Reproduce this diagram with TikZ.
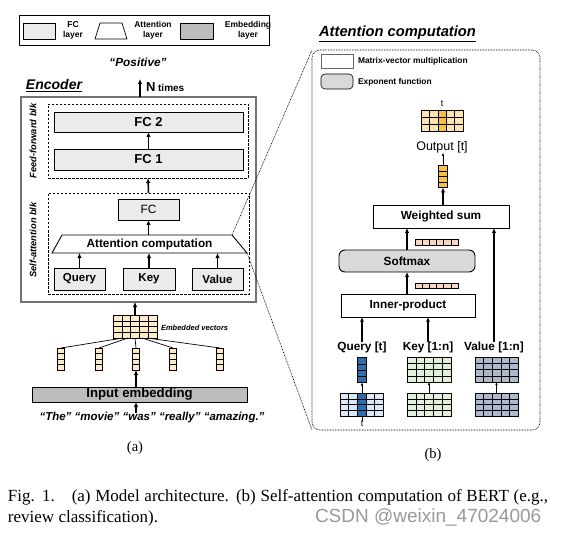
\documentclass[tikz,border=0pt]{standalone}
\usepackage{fontspec}
\setmainfont{Liberation Serif}
\setsansfont{Liberation Sans}
\usetikzlibrary{calc,arrows.meta}
\definecolor{fcgray}{HTML}{EBEBEB}
\definecolor{embgray}{HTML}{BDBDBD}
\definecolor{smgray}{HTML}{D9D9D9}
\definecolor{paley}{HTML}{FBEBC8}
\definecolor{peach}{HTML}{FCE4B2}
\definecolor{gold}{HTML}{F5C242}
\definecolor{pinkv}{HTML}{F6D5C5}
\definecolor{qdark}{HTML}{2E6DAE}
\definecolor{qlight}{HTML}{DCE8F5}
\definecolor{kgreen}{HTML}{E2EFD9}
\definecolor{vslate}{HTML}{ADB9CB}
\newcommand{\fsz}[1]{\fontsize{#1}{#1}\selectfont}
\newcommand{\cellgrid}[3]{%
  \pgfmathtruncatemacro{\cgc}{#2-1}%
  \pgfmathtruncatemacro{\cgr}{#3-1}%
  \ifnum\cgc>0
    \foreach \ci in {1,...,\cgc}{\draw[cellline] ($(#1.south west)!\ci/#2!(#1.south east)$) -- ($(#1.north west)!\ci/#2!(#1.north east)$);}
  \fi
  \ifnum\cgr>0
    \foreach \ri in {1,...,\cgr}{\draw[cellline] ($(#1.south west)!\ri/#3!(#1.north west)$) -- ($(#1.south east)!\ri/#3!(#1.north east)$);}
  \fi
}
\newcommand{\hlcol}[4]{\fill[#4] ($(#1.south west)!#2!(#1.south east)$) rectangle ($(#1.north west)!#3!(#1.north east)$);}
\newcommand{\reborder}[1]{\draw[line width=0.6pt] (#1.south west) rectangle (#1.north east);}
\begin{document}
\begin{tikzpicture}[x=1pt,y=-1pt,
  every node/.style={inner sep=0pt, outer sep=0pt},
  sz/.style 2 args={minimum width=#1pt,minimum height=#2pt},
  nbox/.style={draw, line width=0.9pt, font=\sffamily\bfseries\fsz{11.8}},
  dbox/.style={draw, line width=0.8pt, dash pattern=on 2.5pt off 1.5pt},
  arr/.style={-{Latex[length=5pt,width=4.5pt]}, line width=1.5pt},
  marr/.style={-{Latex[length=4.5pt,width=4pt]}, line width=1.1pt},
  tarr/.style={-{Latex[length=3pt,width=2.6pt]}, line width=0.6pt},
  mcell/.style={draw, line width=0.6pt},
  cellline/.style={line width=0.5pt},
  lbl/.style={font=\sffamily\bfseries\fsz{#1}},
  lgt/.style={font=\sffamily\bfseries\fontsize{8.5}{10}\selectfont, align=center},
  dotl/.style={line width=0.6pt, dash pattern=on 0.8pt off 0.8pt}
]
\useasboundingbox (0,0) rectangle (561,534);
\fill[white] (0,0) rectangle (561,534);

% ---------- legend (a)
\node[draw, line width=0.9pt, sz={250}{30}] (legend) at (144,30) {};
\node[draw, fill=fcgray, line width=0.7pt, sz={32}{16}] (lgfc) at (39,31) {};
\node[lgt] (lgfct) at (73,30) {FC\\layer};
\draw[line width=0.7pt] (95,39) -- (100,23) -- (122,23) -- (127,39) -- cycle;
\node[lgt] (lgatt) at (153,30) {Attention\\layer};
\node[draw, fill=embgray, line width=0.7pt, sz={33}{16}] (lgemb) at (196.5,31) {};
\node[lgt] (lgembt) at (248,30) {Embedding\\layer};

\node[font=\sffamily\bfseries\itshape\fsz{11.8}] (pos) at (138,62) {“Positive”};
\node[font=\sffamily\bfseries\itshape\fsz{14}] (enct) at (54,86) {\underline{Encoder}};

% ---------- encoder
\node[draw=black!55, line width=1.3pt, sz={235}{205}] (enc) at (138.5,199.5) {};
\coordinate (ntop) at (140,79);
\draw[arr] (enc.north -| ntop) -- (ntop);
\node[anchor=west, font=\sffamily\bfseries] (ntimes) at (146,87) {{\fsz{13}N}\ {\fsz{10}times}};

\node[dbox, sz={200}{74}] (ffb) at (148,141) {};
\node[nbox, fill=fcgray, sz={189}{20}, font=\sffamily\bfseries\fsz{13}] (fc2) at (148.5,122) {FC 2};
\node[nbox, fill=fcgray, sz={189}{21}, font=\sffamily\bfseries\fsz{13}] (fc1) at (148.5,159.5) {FC 1};
\draw[arr] (fc1.north) -- (fc2.south);

\node[dbox, sz={201}{101}] (sab) at (148.5,243.5) {};
\draw[arr] (sab.north) -- (ffb.south);
\node[nbox, fill=fcgray, sz={61}{21}, font=\sffamily\fsz{12}] (fc) at (148.5,209.5) {FC};
\draw[line width=0.9pt] (52,253) -- (62,235) -- (232,235) -- (247,253) -- cycle;
\node[sz={195}{18}, font=\sffamily\bfseries\fsz{11.8}] (attn) at (149.5,244) {Attention computation};
\draw[arr] (attn.north -| fc) -- (fc.south);
\node[nbox, fill=fcgray, sz={51}{22}, font=\sffamily\bfseries\fsz{11.5}] (q) at (79.5,279) {Query};
\node[nbox, fill=fcgray, sz={52}{22}, font=\sffamily\bfseries\fsz{11.5}] (k) at (149,279) {Key};
\node[nbox, fill=fcgray, sz={51}{22}, font=\sffamily\bfseries\fsz{11.5}] (v) at (217.5,279) {Value};
\draw[arr] (q.north) -- (q.north |- attn.south);
\draw[arr] (k.north) -- (k.north |- attn.south);
\draw[arr] (v.north) -- (v.north |- attn.south);

\node[rotate=90, font=\sffamily\bfseries\itshape\fsz{9.3}] (fflbl) at (33,141) {Feed-forward blk};
\node[rotate=90, font=\sffamily\bfseries\itshape\fsz{9.3}] (salbl) at (33,240) {Self-attention blk};

% ---------- embedding
\node[mcell, fill=paley, sz={44}{23}] (emb) at (135,326.5) {};
\cellgrid{emb}{5}{4}
\reborder{emb}
\draw[arr] (emb.north) -- (emb.north |- enc.south);
\node[anchor=west, font=\sffamily\bfseries\itshape\fsz{7.5}] (embt) at (161,328) {Embedded vectors};

\foreach \n/\x in {1/61,2/99,3/136,4/173,5/220}{
  \node[mcell, fill=paley, sz={7.5}{22}] (ev\n) at (\x,359) {};
  \cellgrid{ev\n}{1}{4}
}
\draw[line width=0.7pt] ($(emb.south)+(-12,0)$) -- (ev1.north);
\draw[line width=0.7pt] ($(emb.south)+(-7,0)$) -- (ev2.north);
\draw[line width=0.7pt] (emb.south) -- (ev3.north);
\draw[line width=0.7pt] ($(emb.south)+(7,0)$) -- (ev4.north);
\draw[line width=0.7pt] ($(emb.south)+(12,0)$) -- (ev5.north);

\node[nbox, fill=embgray, sz={215}{15}, font=\sffamily\bfseries\fsz{13.2}] (ie) at (139.5,394.5) {Input embedding};
\draw[arr] (ie.north -| ev3) -- (ev3.south);
\node[font=\sffamily\bfseries\itshape\fsz{11.5}] (words) at (152,418) {“The” “movie” “was” “really”\ “amazing.”};
\draw[arr] (words.north -| ev3) -- (ie.south -| ev3);
\node[font=\rmfamily\fsz{14.5}] (la) at (135,448) {(a)};

% ---------- attention computation (b)
\node[font=\sffamily\bfseries\itshape\fsz{14.7}] (atitle) at (397.5,34) {\underline{Attention computation}};
\node[draw, rounded corners=8pt, dotl, sz={228}{380}] (panel) at (426,240) {};
\node[draw=black!60, line width=0.6pt, sz={32}{14}] (lg1) at (337,61) {};
\node[anchor=west, font=\sffamily\bfseries\fsz{8.4}] (lg1t) at (358,61) {Matrix-vector multiplication};
\node[draw, fill=smgray, rounded corners=4pt, line width=0.6pt, sz={32}{15}] (lg2) at (337,81.5) {};
\node[anchor=west, font=\sffamily\bfseries\fsz{8.4}] (lg2t) at (358,82) {Exponent function};

\node[mcell, fill=peach, sz={42}{21}] (om) at (442,120.5) {};
\hlcol{om}{0.4}{0.6}{gold}
\cellgrid{om}{5}{3}
\reborder{om}
\node[font=\sffamily\fsz{9}] (ot) at (442,104) {t};
\node[font=\sffamily\fsz{12.5}] (otext) at (442,147) {Output [t]};
\node[mcell, fill=gold, sz={9}{22}] (ov) at (443,176.5) {};
\cellgrid{ov}{1}{4}
\draw[tarr] (ov.north) -- (ov.north |- otext.south);

\node[nbox, fill=white, sz={136}{23}] (ws) at (441,216.5) {Weighted sum};
\draw[arr] (ws.north -| ov) -- (ov.south);
\node[nbox, fill=smgray, rounded corners=6pt, sz={136}{22}] (sm) at (407,261) {Softmax};
\draw[arr] (sm.north) -- (sm.north |- ws.south);
\node[draw, line width=0.5pt, fill=pinkv, sz={43}{6}] (pv1) at (436.5,242) {};
\cellgrid{pv1}{6}{1}
\node[nbox, fill=white, sz={134}{23}] (ip) at (408,305.5) {Inner-product};
\draw[arr] (ip.north -| sm) -- (sm.south);
\node[draw, line width=0.5pt, fill=pinkv, sz={43}{5.5}] (pv2) at (436.5,285.5) {};
\cellgrid{pv2}{6}{1}

\node[lbl=11.8] (ql) at (362,347) {Query [t]};
\node[lbl=11.8] (kl) at (428,347) {Key [1:n]};
\node[lbl=11.8] (vl) at (494,347) {Value [1:n]};
\draw[marr] (ql.north) -- (ql.north |- ip.south);
\draw[marr] (kl.north) -- (kl.north |- ip.south);
\draw[arr] (vl.north) -- (vl.north |- ws.south);

\node[mcell, fill=qdark, sz={9}{25}] (qv) at (362,370) {};
\cellgrid{qv}{1}{4}
\node[mcell, fill=qlight, sz={43}{23}] (qm) at (361.5,404.5) {};
\hlcol{qm}{0.4}{0.6}{qdark}
\cellgrid{qm}{5}{4}
\reborder{qm}
\draw[tarr] (qm.north -| qv) -- (qv.south);
\node[font=\sffamily\fsz{9}] (qt) at (362,424) {t};
\draw[line width=0.5pt] (qt.north) -- (qm.south -| qt);

\node[mcell, fill=kgreen, sz={44}{25}] (kt) at (429,369.5) {};
\cellgrid{kt}{5}{4}
\node[mcell, fill=kgreen, sz={44}{23}] (kb) at (429,404.5) {};
\cellgrid{kb}{5}{4}
\draw[tarr, line width=0.9pt] (kb.north) -- (kt.south);

\node[mcell, fill=vslate, sz={43}{25}] (vt) at (496.5,369.5) {};
\cellgrid{vt}{5}{4}
\node[mcell, fill=vslate, sz={43}{23}] (vb) at (496.5,404.5) {};
\cellgrid{vb}{5}{4}
\draw[tarr, line width=0.9pt] (vb.north) -- (vt.south);

\node[font=\rmfamily\fsz{14.5}] (lb) at (433,455) {(b)};

% ---------- zoom lines
\coordinate (trtr) at (232,235);
\coordinate (trbr) at (247,253);
\draw[dotl] (trtr) -- (panel.north west);
\draw[dotl] (trbr) -- (panel.south west);

% ---------- caption
\node[anchor=north west, text width=540pt, align=justify, font=\rmfamily\fontsize{17}{21}\selectfont] (cap) at (8,490) {\noindent Fig. 1.\quad (a) Model architecture. (b) Self-attention computation of BERT (e.g.,\linebreak review classification).};
\node[anchor=base west, font=\sffamily\fsz{19}, text=black!40] (wm) at (315,522) {CSDN @weixin\_47024006};
\end{tikzpicture}
\end{document}
